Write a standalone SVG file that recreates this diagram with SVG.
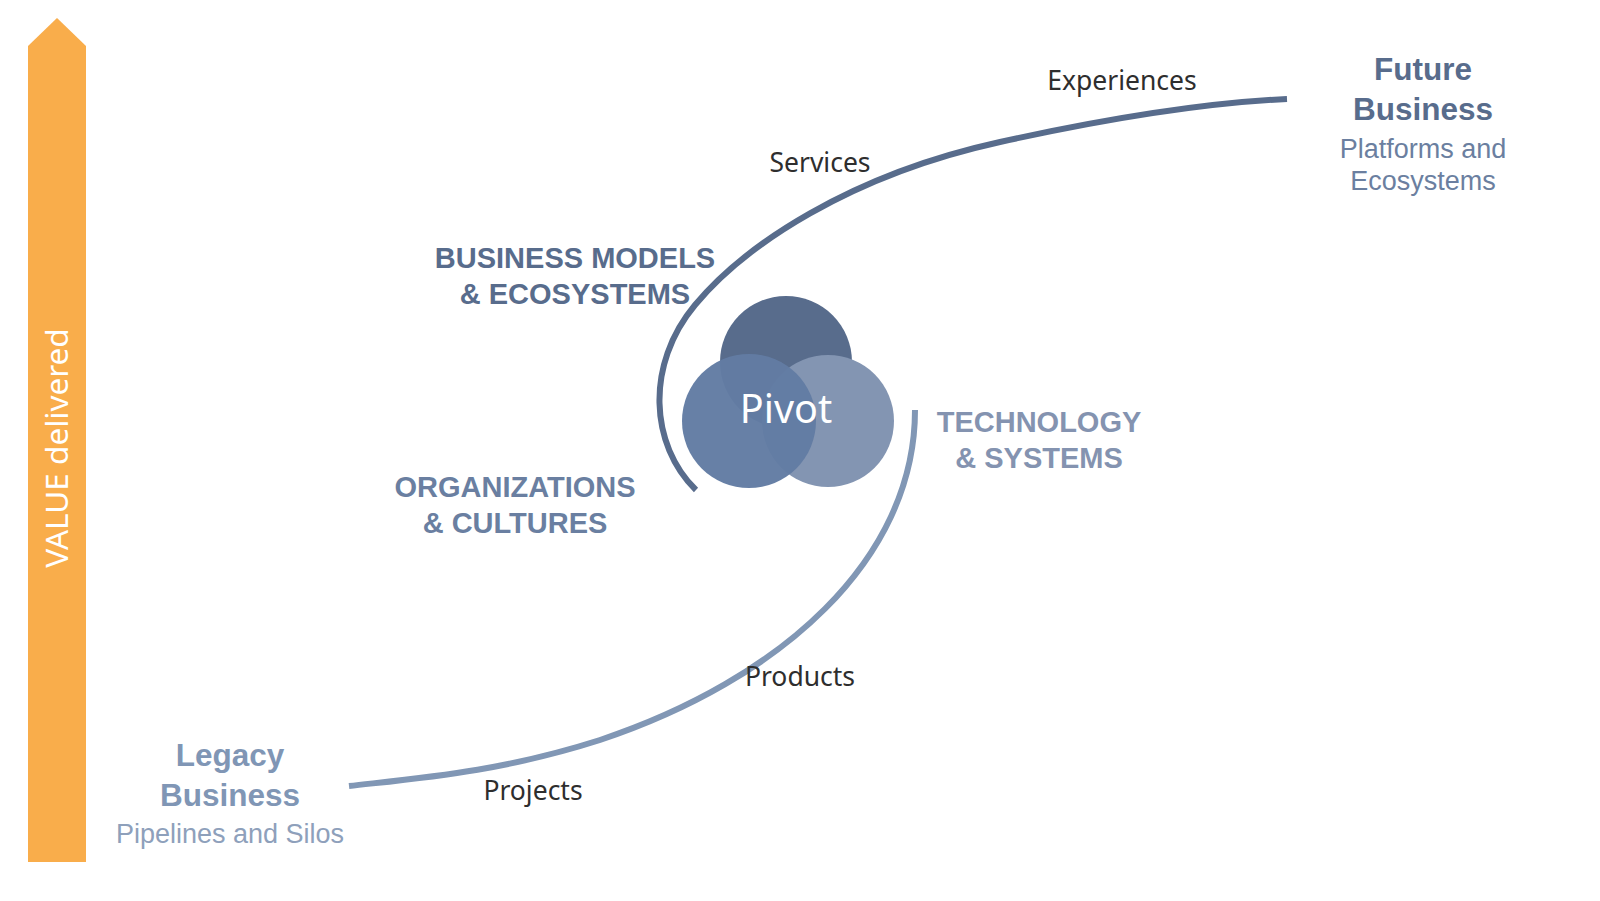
<svg xmlns="http://www.w3.org/2000/svg" width="1600" height="901" viewBox="0 0 1600 901">
<style>
text{font-family:"Noto Sans","Open Sans","Liberation Sans",sans-serif;text-anchor:middle}
.cat{font-family:"Liberation Sans",Arial,sans-serif;font-weight:bold;font-size:29px}
.stage{font-size:26.5px;fill:#2e2e2e}
.title{font-family:"Liberation Sans",Arial,sans-serif;font-weight:bold;font-size:31.5px}
.sub{font-family:"Liberation Sans",Arial,sans-serif;font-size:27px}
</style>
<rect width="1600" height="901" fill="#ffffff"/>
<g id="value-arrow">
<polygon points="28,862 28,46 57,18 86,46 86,862" fill="#f9ad4b"/>
<text transform="translate(68,448) rotate(-90)" font-size="31.5" fill="#ffffff">VALUE delivered</text>
</g>
<g id="connectors" fill="none" stroke-width="6">
<path d="M696,490 C650,445 645,365 695,305 C745,245 850,175 1000,142 C1100,120 1200,103 1287,99" stroke="#586c8c"/>
<path d="M915,410 C915,560 780,680 600,740 C500,772 420,778 349,786" stroke="#8197b5"/>
</g>
<g id="pivot">
<circle cx="786" cy="362" r="66" fill="#586c8c"/>
<circle cx="828" cy="421" r="66" fill="#8395b2"/>
<circle cx="749" cy="421" r="67" fill="#627ca3" opacity="0.97"/>
<text x="786" y="423" font-size="39.5" fill="#ffffff">Pivot</text>
</g>
<g id="business-models">
<text class="cat" x="575" y="268" fill="#586c8c">BUSINESS MODELS</text>
<text class="cat" x="575" y="304" fill="#586c8c">&amp; ECOSYSTEMS</text>
</g>
<g id="organizations">
<text class="cat" x="515" y="497" fill="#6a7fa1">ORGANIZATIONS</text>
<text class="cat" x="515" y="533" fill="#6a7fa1">&amp; CULTURES</text>
</g>
<g id="technology">
<text class="cat" x="1039" y="432" fill="#8493b0">TECHNOLOGY</text>
<text class="cat" x="1039" y="468" fill="#8493b0">&amp; SYSTEMS</text>
</g>
<g id="future-business">
<text class="title" x="1423" y="80" fill="#586c8c">Future</text>
<text class="title" x="1423" y="120" fill="#586c8c">Business</text>
<text class="sub" x="1423" y="158" fill="#6b7fa0">Platforms and</text>
<text class="sub" x="1423" y="190" fill="#6b7fa0">Ecosystems</text>
</g>
<g id="legacy-business">
<text class="title" x="230" y="766" fill="#8096b5">Legacy</text>
<text class="title" x="230" y="806" fill="#8096b5">Business</text>
<text class="sub" x="230" y="843" font-size="27.5" fill="#8ea0bb">Pipelines and Silos</text>
</g>
<g id="stages">
<text class="stage" x="1122" y="90">Experiences</text>
<text class="stage" x="820" y="172">Services</text>
<text class="stage" x="800" y="686">Products</text>
<text class="stage" x="533" y="800">Projects</text>
</g>
</svg>
